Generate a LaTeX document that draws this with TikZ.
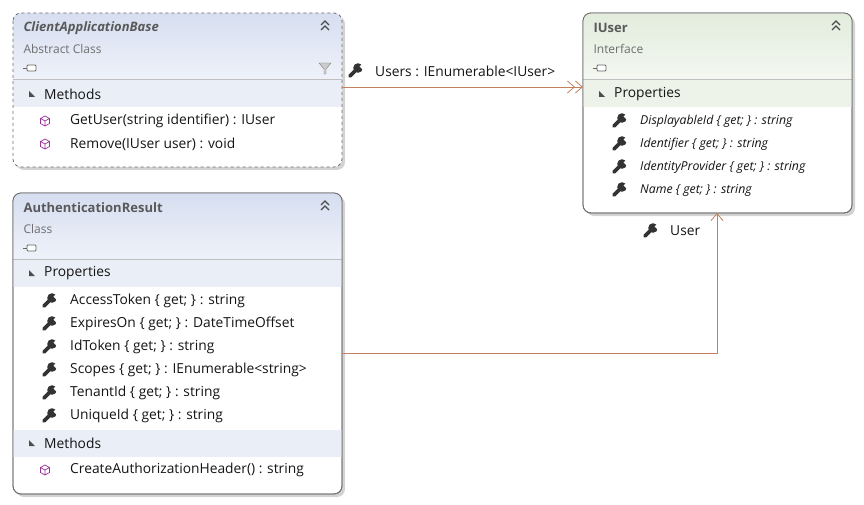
\documentclass[tikz,border=0pt]{standalone}
\usepackage{fontspec}
\setmainfont{Open Sans}
\usetikzlibrary{arrows.meta,shadows}
\definecolor{hdrB}{RGB}{214,222,240}
\definecolor{hdrG}{RGB}{226,236,220}
\definecolor{bandB}{RGB}{234,238,246}
\definecolor{bandG}{RGB}{238,243,234}
\definecolor{conn}{RGB}{196,128,96}
\definecolor{bord}{RGB}{110,110,110}
\definecolor{txt}{RGB}{20,20,20}
\definecolor{sub}{RGB}{110,110,110}
\tikzset{
  boxshape/.style={rounded corners=8pt, fill=white, draw=bord, line width=0.8pt, drop shadow={shadow xshift=3pt,shadow yshift=-3pt,opacity=0.35,fill=gray}},
  ttl/.style={anchor=west, font=\fontsize{13}{15}\selectfont\bfseries, text=black!65},
  subt/.style={anchor=west, font=\fontsize{12}{14}\selectfont, text=sub},
  row/.style={anchor=west, font=\fontsize{13.8}{15}\selectfont, text=txt, inner sep=0pt},
  irow/.style={row, font=\fontsize{12.3}{14}\selectfont\itshape},
  connline/.style={draw=conn, line width=0.8pt},
  dbl/.style={-{Straight Barb[length=7pt,width=12pt,line width=0.8pt] Straight Barb[length=7pt,width=12pt,line width=0.8pt]}},
}
\newcommand{\chev}[2]{\draw[black!70,line width=1.1pt] (#1-4,#2+2)--(#1,#2-2)--(#1+4,#2+2) (#1-4,#2-3)--(#1,#2-7)--(#1+4,#2-3);}
\newcommand{\clsicon}[2]{\draw[black!60,line width=0.6pt] (#1-4,#2)--(#1,#2); \draw[black!60,fill=white,rounded corners=1pt,line width=0.8pt] (#1,#2-3) rectangle (#1+9,#2+3);}
\newcommand{\meth}[2]{\draw[violet!80,line width=0.7pt] (#1,#2-5)--(#1+4.5,#2-2.5)--(#1+4.5,#2+2.5)--(#1,#2+5)--(#1-4.5,#2+2.5)--(#1-4.5,#2-2.5)--cycle (#1-4.5,#2-2.5)--(#1,#2)--(#1+4.5,#2-2.5) (#1,#2)--(#1,#2+5);}
\newcommand{\tri}[2]{\fill[black!70] (#1-3,#2-3)--(#1+3,#2+3)--(#1-3,#2+3)--cycle;}
\newcommand{\wrench}[2]{\draw[black!80,line width=3.6pt,line cap=round] (#1-5,#2+5)--(#1+1,#2-1); \fill[black!80] (#1+3,#2-3) circle (4.8); \fill[white] (#1+4.5,#2-4.5) -- ++(4,-4) -- ++(4,4) -- ++(-4,4) -- cycle;}
\begin{document}
\begin{tikzpicture}[x=1pt,y=-1pt]
\useasboundingbox (0,0) rectangle (864,505);
% ClientApplicationBase
\path[boxshape,draw=none] (13,13) rectangle (342,167);
\begin{scope}
\clip[rounded corners=8pt] (13,13) rectangle (342,167);
\shade[top color=hdrB, bottom color=white!60!hdrB] (13,13) rectangle (342,79);
\fill[bandB] (13,80) rectangle (342,107);
\draw[black!25] (13,79.5)--(342,79.5);
\end{scope}
\draw[bord,dashed,line width=0.8pt,rounded corners=8pt] (13,13) rectangle (342,167);
\node[ttl,font=\fontsize{13}{15}\selectfont\bfseries\itshape] (cab) at (20,28) {ClientApplicationBase};
\node[subt] (cabs) at (20,49) {Abstract Class};
\clsicon{27}{68}
\chev{325}{28}
\draw[black!50,fill=gray!40] (319,63)--(331,63)--(326,69)--(326,74)--(324,74)--(324,69)--cycle;
\tri{32}{94}
\node[row] (cabm) at (44,94) {Methods};
\meth{45}{121}\node[row] (m1) at (70,121) {GetUser(string identifier) : IUser};
\meth{45}{144}\node[row] (m2) at (70,144) {Remove(IUser user) : void};
\coordinate (cabR) at (342,87);
% IUser
\path[boxshape] (583,13) rectangle (852,213);
\begin{scope}
\clip[rounded corners=8pt] (583,13) rectangle (852,213);
\shade[top color=hdrG, bottom color=white!60!hdrG] (583,13) rectangle (852,79);
\fill[bandG] (583,80) rectangle (852,107);
\draw[black!25] (583,79.5)--(852,79.5);
\end{scope}
\draw[bord,line width=0.8pt,rounded corners=8pt] (583,13) rectangle (852,213);
\node[ttl] (iu) at (590,28) {IUser};
\node[subt] (ius) at (590,49) {Interface};
\clsicon{597}{68}
\chev{836}{28}
\tri{602}{94}
\node[row] (iup) at (614,94) {Properties};
\wrench{619}{121} \node[irow] (p1) at (640,121) {DisplayableId \{ get; \} : string};
\wrench{619}{144} \node[irow] (p2) at (640,144) {Identifier \{ get; \} : string};
\wrench{619}{167} \node[irow] (p3) at (640,167) {IdentityProvider \{ get; \} : string};
\wrench{619}{190} \node[irow] (p4) at (640,190) {Name \{ get; \} : string};
\coordinate (iuL) at (583,87);
\coordinate (iuB) at (717,213);
% AuthenticationResult
\path[boxshape] (13,193) rectangle (342,494);
\begin{scope}
\clip[rounded corners=8pt] (13,193) rectangle (342,494);
\shade[top color=hdrB, bottom color=white!60!hdrB] (13,193) rectangle (342,259);
\fill[bandB] (13,260) rectangle (342,287);
\fill[bandB] (13,430) rectangle (342,457);
\draw[black!25] (13,259.5)--(342,259.5);
\end{scope}
\draw[bord,line width=0.8pt,rounded corners=8pt] (13,193) rectangle (342,494);
\node[ttl] (ar) at (20,208) {AuthenticationResult};
\node[subt] (ars) at (20,229) {Class};
\clsicon{27}{248}
\chev{325}{208}
\tri{32}{273}
\node[row] (arp) at (44,273) {Properties};
\foreach \y/\t in {301/{AccessToken \{ get; \} : string},324/{ExpiresOn \{ get; \} : DateTimeOffset},347/{IdToken \{ get; \} : string},370/{Scopes \{ get; \} : IEnumerable<string>},393/{TenantId \{ get; \} : string},416/{UniqueId \{ get; \} : string}}{
  \wrench{49}{\y} \node[row] at (70,\y) {\t};}
\tri{32}{443}
\node[row] (arm) at (44,443) {Methods};
\meth{45}{470}\node[row] (m3) at (70,470) {CreateAuthorizationHeader() : string};
\coordinate (arR) at (342,353);
% connectors
\draw[connline,dbl] (cabR) -- (iuL);
\wrench{355}{71} \node[row] (ul) at (375,71) {Users : IEnumerable<IUser>};
\draw[connline,-{Straight Barb[length=7pt,width=12pt,line width=0.8pt]}] (arR) -| (iuB);
\wrench{650}{231} \node[row] (u2) at (670,231) {User};
\end{tikzpicture}
\end{document}
